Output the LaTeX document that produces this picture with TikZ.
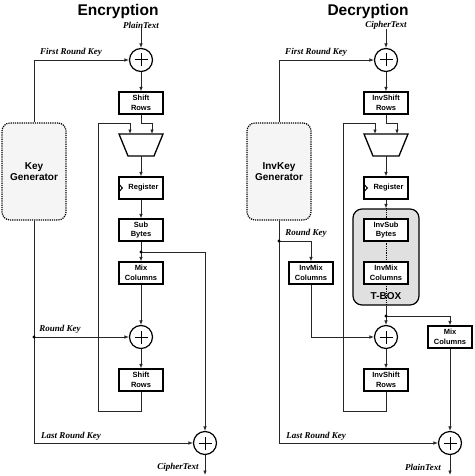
\documentclass[tikz,border=0pt]{standalone}
\usepackage{fontspec}
\setmainfont{Liberation Serif}
\setsansfont{Liberation Sans}
\usetikzlibrary{arrows.meta,calc}
\begin{document}
\begin{tikzpicture}[x=1pt,y=-1pt,
  conn/.style={line width=0.8pt, draw=black!85},
  arr/.style={conn,-{Latex[length=4.5pt,width=3.6pt]}},
  blk/.style={draw, line width=1.3pt, fill=white, minimum width=44pt, minimum height=22pt, inner sep=0pt, align=center, font=\sffamily\bfseries\fontsize{7.5}{9.5}\selectfont},
  xorc/.style={draw, circle, line width=1.2pt, fill=white, minimum size=23pt, inner sep=0pt,
    path picture={\draw[line width=1pt] ($(path picture bounding box.center)+(-6.5pt,0)$) -- ++(13pt,0) ($(path picture bounding box.center)+(0,-6.5pt)$) -- ++(0,13pt);}},
  lbl/.style={font=\rmfamily\bfseries\itshape\fontsize{9}{10}\selectfont, inner sep=0pt},
  ttl/.style={font=\sffamily\bfseries\fontsize{15.5}{17}\selectfont, inner sep=0pt},
  kgen/.style={draw, rounded corners=8pt, densely dotted, line width=1.2pt, fill=black!4, minimum width=64pt, minimum height=97pt, inner sep=0pt, align=center, font=\sffamily\bfseries\fontsize{10}{11}\selectfont},
  tboxs/.style={draw, rounded corners=9pt, line width=1.2pt, fill=black!12, minimum width=66pt, minimum height=96pt, inner sep=0pt},
  mux/.style={draw, line width=1.3pt, fill=white},
  dotc/.style={fill=black, circle, inner sep=0pt, minimum size=3.2pt}
]
\useasboundingbox (0,0) rectangle (474,476);

% ================= Encryption =================
\node[ttl] (etitle) at (118,11) {Encryption};
\node[lbl] (ept) at (141,25) {PlainText};
\node[xorc] (ex1) at (141,60) {};
\node[blk] (esr1) at (141,103) {Shift\\Rows};
\draw[mux] (119,134) -- (163,134) -- (154,156) -- (128,156) -- cycle;
\coordinate (emin1) at (130,134);
\coordinate (emin2) at (152,134);
\coordinate (emout) at (141,156);
\node[blk] (ereg) at (141,188) {\hspace{5pt}Register};
\draw[line width=1pt] ($(ereg.west)+(0,-4.5)$) -- ($(ereg.west)+(4,0)$) -- ($(ereg.west)+(0,4.5)$);
\node[blk] (esb) at (141,230) {Sub\\Bytes};
\node[blk] (emc) at (141,273) {Mix\\Columns};
\node[xorc] (ex2) at (141,337) {};
\node[blk] (esr2) at (141,380) {Shift\\Rows};
\node[xorc] (ex3) at (205,443) {};
\node[kgen] (ekg) at (34,171.5) {Key\\Generator};
\coordinate (ed1) at (141,252);
\coordinate (ekd) at (34,337);
\coordinate (elb) at (98,411);
\coordinate (elt) at (98,123);
\coordinate (eout) at (205,475);

\node[lbl] (efrk) at (71,52) {First Round Key};
\node[lbl] (erk) at (60,329) {Round Key};
\node[lbl] (elrk) at (71,436) {Last Round Key};
\node[lbl] (ect) at (178,467) {CipherText};

\draw[arr] (ept.south) -- (ex1.north);
\draw[arr] (ekg.north) |- (ex1.west);
\draw[arr] (ex1.south) -- (esr1.north);
\draw[arr] (esr1.south) -- ++(0,9) -| (emin2);
\draw[arr] (esr2.south) |- (elb) -- (elt) -| (emin1);
\draw[arr] (emout) -- (ereg.north);
\draw[arr] (ereg.south) -- (esb.north);
\draw[arr] (esb.south) -- (emc.north);
\draw[arr] (ed1) -| (ex3.north);
\draw[arr] (emc.south) -- (ex2.north);
\draw[arr] (ex2.south) -- (esr2.north);
\draw[conn] (ekg.south) -- (ekd);
\draw[arr] (ekd) -- (ex2.west);
\draw[arr] (ekd) |- (ex3.west);
\draw[arr] (ex3.south) -- (eout);
\node[dotc] at (ed1) {};
\node[dotc] at (ekd) {};

% ================= Decryption =================
\node[ttl] (dtitle) at (368,11) {Decryption};
\node[lbl] (dct) at (386,25) {CipherText};
\node[xorc] (dx1) at (386,60) {};
\node[blk] (dsr1) at (386,103) {InvShift\\Rows};
\draw[mux] (364,134) -- (408,134) -- (399,156) -- (373,156) -- cycle;
\coordinate (dmin1) at (375,134);
\coordinate (dmin2) at (397,134);
\coordinate (dmout) at (386,156);
\node[blk] (dreg) at (386,188) {\hspace{5pt}Register};
\draw[line width=1pt] ($(dreg.west)+(0,-4.5)$) -- ($(dreg.west)+(4,0)$) -- ($(dreg.west)+(0,4.5)$);
\node[tboxs] (dtb) at (386,257) {};
\draw[densely dotted, line width=0.8pt] (dtb.north) -- (dtb.south);
\node[blk] (dsb) at (386,230) {InvSub\\Bytes};
\node[blk] (dimc) at (386,273) {InvMix\\Columns};
\node[font=\sffamily\bfseries\fontsize{10}{11}\selectfont, inner sep=0pt] (dtbl) at (386,296) {T-BOX};
\node[xorc] (dx2) at (386,337) {};
\node[blk] (dsr2) at (386,380) {InvShift\\Rows};
\node[blk] (dmcr) at (450,337) {Mix\\Columns};
\node[blk] (dimk) at (311,273) {InvMix\\Columns};
\node[xorc] (dx3) at (450,443) {};
\node[kgen] (dkg) at (279,171.5) {InvKey\\Generator};
\coordinate (dd1) at (386,316);
\coordinate (dkd) at (279,241);
\coordinate (dlb) at (343,411);
\coordinate (dlt) at (343,123);
\coordinate (dout) at (450,475);

\node[lbl] (dfrk) at (316,52) {First Round Key};
\node[lbl] (drk) at (306,233) {Round Key};
\node[lbl] (dlrk) at (316,436) {Last Round Key};
\node[lbl] (dpt) at (423,467) {PlainText};

\draw[arr] (dct.south) -- (dx1.north);
\draw[arr] (dkg.north) |- (dx1.west);
\draw[arr] (dx1.south) -- (dsr1.north);
\draw[arr] (dsr1.south) -- ++(0,9) -| (dmin2);
\draw[arr] (dsr2.south) |- (dlb) -- (dlt) -| (dmin1);
\draw[arr] (dmout) -- (dreg.north);
\draw[arr] (dreg.south) -- (dtb.north);
\draw[conn] (dtb.south) -- (dd1);
\draw[arr] (dd1) -- (dx2.north);
\draw[arr] (dd1) -| (dmcr.north);
\draw[arr] (dmcr.south) -- (dx3.north);
\draw[arr] (dx2.south) -- (dsr2.north);
\draw[conn] (dkg.south) -- (dkd);
\draw[arr] (dkd) -| (dimk.north);
\draw[arr] (dimk.south) |- (dx2.west);
\draw[arr] (dkd) |- (dx3.west);
\draw[arr] (dx3.south) -- (dout);
\node[dotc] at (dd1) {};
\node[dotc] at (dkd) {};
\end{tikzpicture}
\end{document}
